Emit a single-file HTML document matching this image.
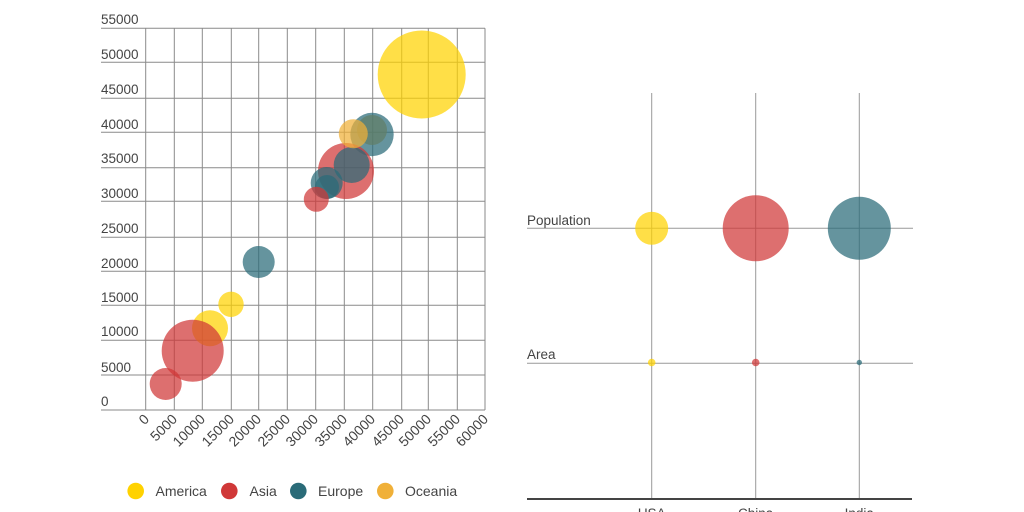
<!DOCTYPE html>
<html><head><meta charset="utf-8"><style>
html,body{margin:0;padding:0;background:#fff;}
svg{display:block;font-family:"Liberation Sans",sans-serif;}
</style></head><body>
<svg width="1024" height="512" viewBox="0 0 1024 512" xmlns="http://www.w3.org/2000/svg">
<g stroke="#8a8a8a" stroke-width="1" fill="none">
<line x1="101" y1="28.3" x2="485" y2="28.3"/><line x1="101" y1="62.3" x2="485" y2="62.3"/>
<line x1="101" y1="98.3" x2="485" y2="98.3"/><line x1="101" y1="132.3" x2="485" y2="132.3"/>
<line x1="101" y1="167.7" x2="485" y2="167.7"/><line x1="101" y1="201.3" x2="485" y2="201.3"/>
<line x1="101" y1="237.3" x2="485" y2="237.3"/><line x1="101" y1="271.3" x2="485" y2="271.3"/>
<line x1="101" y1="305.3" x2="485" y2="305.3"/><line x1="101" y1="340.3" x2="485" y2="340.3"/>
<line x1="101" y1="375" x2="485" y2="375"/><line x1="101" y1="410" x2="485" y2="410"/>
<line x1="145.7" y1="28.3" x2="145.7" y2="410"/><line x1="174.3" y1="28.3" x2="174.3" y2="410"/>
<line x1="202.3" y1="28.3" x2="202.3" y2="410"/><line x1="231.3" y1="28.3" x2="231.3" y2="410"/>
<line x1="258.7" y1="28.3" x2="258.7" y2="410"/><line x1="287.3" y1="28.3" x2="287.3" y2="410"/>
<line x1="315.7" y1="28.3" x2="315.7" y2="410"/><line x1="344.3" y1="28.3" x2="344.3" y2="410"/>
<line x1="372.7" y1="28.3" x2="372.7" y2="410"/><line x1="401.7" y1="28.3" x2="401.7" y2="410"/>
<line x1="428.3" y1="28.3" x2="428.3" y2="410"/><line x1="457.3" y1="28.3" x2="457.3" y2="410"/>
<line x1="485" y1="28.3" x2="485" y2="410"/>
</g>
<g fill="#444" font-size="13.5">
<text x="101" y="24">55000</text><text x="101" y="59">50000</text><text x="101" y="94">45000</text>
<text x="101" y="129">40000</text><text x="101" y="163">35000</text><text x="101" y="198">30000</text>
<text x="101" y="233">25000</text><text x="101" y="268">20000</text><text x="101" y="302">15000</text>
<text x="101" y="336">10000</text><text x="101" y="372">5000</text><text x="101" y="406">0</text>
</g>
<g fill="#444" font-size="14" text-anchor="end">
<text transform="translate(150,420) rotate(-45)">0</text>
<text transform="translate(178,420) rotate(-45)">5000</text>
<text transform="translate(206,420) rotate(-45)">10000</text>
<text transform="translate(235,420) rotate(-45)">15000</text>
<text transform="translate(262,420) rotate(-45)">20000</text>
<text transform="translate(291,420) rotate(-45)">25000</text>
<text transform="translate(319,420) rotate(-45)">30000</text>
<text transform="translate(348,420) rotate(-45)">35000</text>
<text transform="translate(376,420) rotate(-45)">40000</text>
<text transform="translate(405,420) rotate(-45)">45000</text>
<text transform="translate(432,420) rotate(-45)">50000</text>
<text transform="translate(461,420) rotate(-45)">55000</text>
<text transform="translate(489,420) rotate(-45)">60000</text>
</g>
<g fill-opacity="0.72">
<circle cx="421.7" cy="74.5" r="44" fill="#FFD200"/>
<circle cx="372" cy="130" r="15" fill="#F0B038"/>
<circle cx="372" cy="134.5" r="21.7" fill="#2A6B78"/>
<circle cx="346" cy="171" r="28" fill="#D03838"/>
<circle cx="351.7" cy="165" r="18" fill="#2A6B78"/>
<circle cx="353.3" cy="133.7" r="14.5" fill="#F0B038"/>
<circle cx="326.7" cy="183" r="16" fill="#2A6B78"/>
<circle cx="327" cy="187" r="12" fill="#2A6B78"/>
<circle cx="316.3" cy="199.3" r="12.5" fill="#D03838"/>
<circle cx="258.7" cy="262" r="16" fill="#2A6B78"/>
<circle cx="231" cy="304.3" r="12.7" fill="#FFD200"/>
<circle cx="210" cy="328.3" r="18" fill="#FFD200"/>
<circle cx="192.7" cy="350.7" r="31" fill="#D03838"/>
<circle cx="165.7" cy="384" r="16" fill="#D03838"/>
</g>
<g font-size="14" fill="#444">
<circle cx="135.7" cy="491" r="8.3" fill="#FFD200"/><text x="155.5" y="496">America</text>
<circle cx="229.3" cy="491" r="8.3" fill="#D03838"/><text x="249.5" y="496">Asia</text>
<circle cx="298.3" cy="491" r="8.3" fill="#2A6B78"/><text x="318" y="496">Europe</text>
<circle cx="385.3" cy="491" r="8.3" fill="#F0B038"/><text x="405" y="496">Oceania</text>
</g>
<g stroke="#999" stroke-width="1">
<line x1="651.7" y1="93" x2="651.7" y2="500"/><line x1="755.7" y1="93" x2="755.7" y2="500"/>
<line x1="859.3" y1="93" x2="859.3" y2="500"/>
<line x1="527" y1="228.3" x2="913" y2="228.3"/><line x1="527" y1="363.3" x2="913" y2="363.3"/>
</g>
<line x1="527" y1="499" x2="912" y2="499" stroke="#444" stroke-width="2"/>
<g font-size="13.5" fill="#444">
<text x="527" y="225">Population</text><text x="527" y="359">Area</text>
</g>
<g font-size="13.5" fill="#444" text-anchor="middle">
<text x="651.7" y="518">USA</text><text x="755.7" y="518">China</text><text x="859.3" y="518">India</text>
</g>
<g fill-opacity="0.72">
<circle cx="651.7" cy="228.3" r="16.5" fill="#FFD200"/>
<circle cx="755.7" cy="228.3" r="33" fill="#D03838"/>
<circle cx="859.3" cy="228.3" r="31.5" fill="#2A6B78"/>
<circle cx="651.7" cy="362.5" r="3.8" fill="#FFD200"/>
<circle cx="755.7" cy="362.5" r="3.8" fill="#D03838"/>
<circle cx="859.3" cy="362.5" r="2.7" fill="#2A6B78"/>
</g>
</svg>
</body></html>
